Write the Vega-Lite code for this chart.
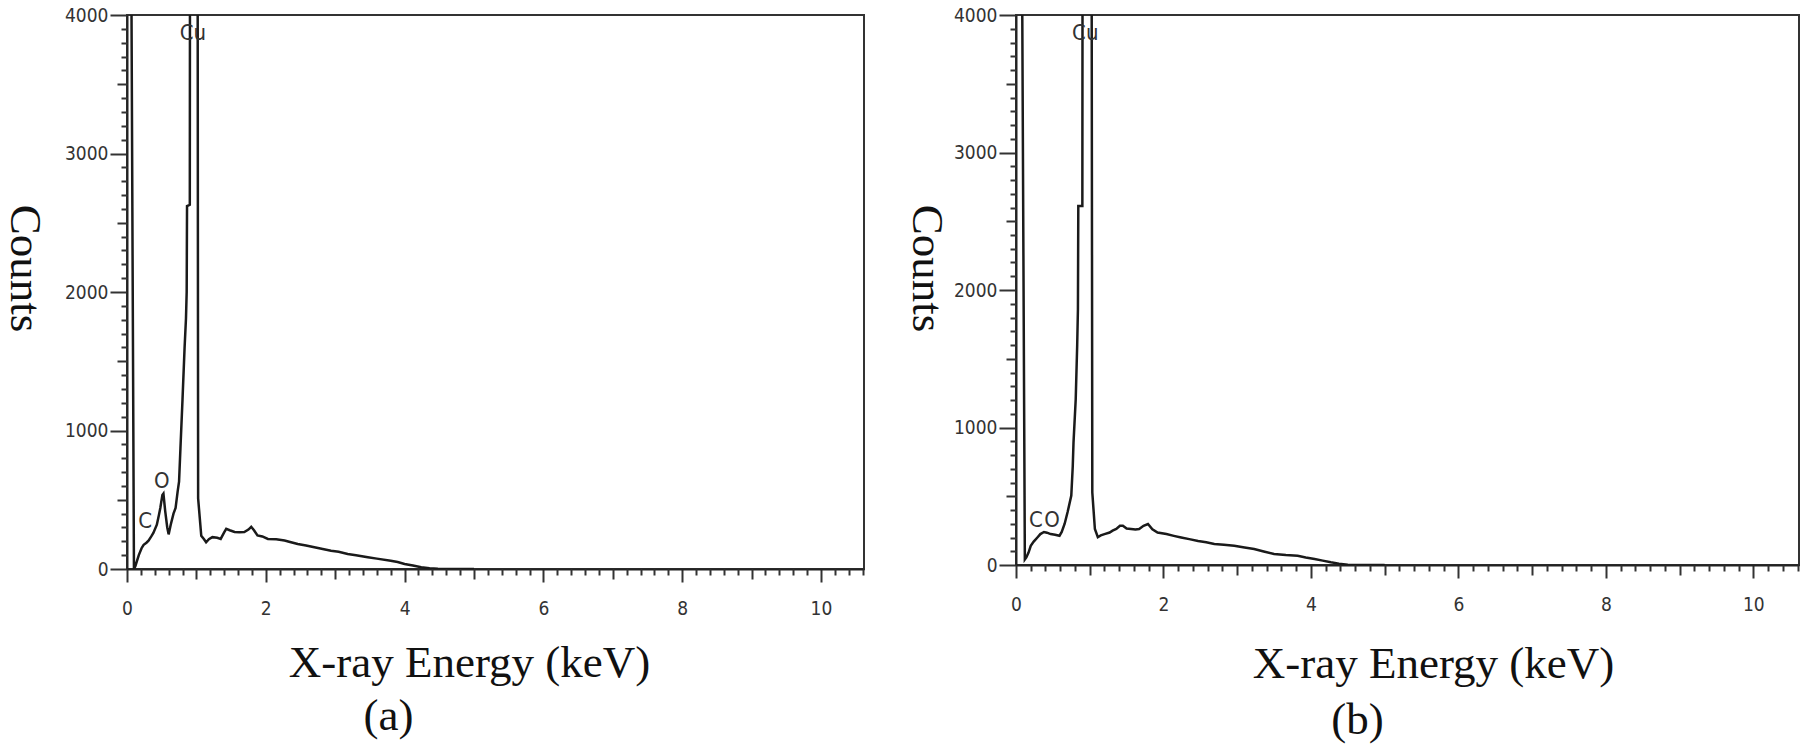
{
  "$schema": "https://vega.github.io/schema/vega-lite/v6.json",
  "background": "white",
  "padding": {"left": 0, "top": 5, "right": 0, "bottom": 0},
  "spacing": 152,
  "bounds": "flush",
  "datasets": {
    "a": [
      {"keV": 0.0, "counts": 4600}, {"keV": 0.06, "counts": 4600}, {"keV": 0.10, "counts": 0},
      {"keV": 0.12, "counts": 20}, {"keV": 0.17, "counts": 100}, {"keV": 0.21, "counts": 150},
      {"keV": 0.24, "counts": 175}, {"keV": 0.28, "counts": 190}, {"keV": 0.31, "counts": 205},
      {"keV": 0.35, "counts": 235}, {"keV": 0.38, "counts": 260}, {"keV": 0.43, "counts": 320},
      {"keV": 0.46, "counts": 390}, {"keV": 0.48, "counts": 440}, {"keV": 0.51, "counts": 535},
      {"keV": 0.525, "counts": 545}, {"keV": 0.55, "counts": 420}, {"keV": 0.58, "counts": 300},
      {"keV": 0.60, "counts": 250}, {"keV": 0.63, "counts": 320}, {"keV": 0.67, "counts": 400},
      {"keV": 0.70, "counts": 440}, {"keV": 0.73, "counts": 560}, {"keV": 0.75, "counts": 630},
      {"keV": 0.77, "counts": 870}, {"keV": 0.80, "counts": 1225}, {"keV": 0.83, "counts": 1600},
      {"keV": 0.85, "counts": 1810}, {"keV": 0.86, "counts": 2000}, {"keV": 0.865, "counts": 2620},
      {"keV": 0.905, "counts": 2630}, {"keV": 0.91, "counts": 6000}, {"keV": 1.015, "counts": 6000},
      {"keV": 1.025, "counts": 510}, {"keV": 1.07, "counts": 240}, {"keV": 1.11, "counts": 215},
      {"keV": 1.14, "counts": 193}, {"keV": 1.18, "counts": 215}, {"keV": 1.23, "counts": 230},
      {"keV": 1.30, "counts": 225}, {"keV": 1.35, "counts": 217}, {"keV": 1.40, "counts": 265},
      {"keV": 1.43, "counts": 290}, {"keV": 1.48, "counts": 280}, {"keV": 1.55, "counts": 267},
      {"keV": 1.62, "counts": 265}, {"keV": 1.69, "counts": 267}, {"keV": 1.75, "counts": 285},
      {"keV": 1.79, "counts": 305}, {"keV": 1.83, "counts": 280}, {"keV": 1.88, "counts": 243},
      {"keV": 1.95, "counts": 235}, {"keV": 2.03, "counts": 217}, {"keV": 2.15, "counts": 215},
      {"keV": 2.27, "counts": 206}, {"keV": 2.35, "counts": 195}, {"keV": 2.46, "counts": 181},
      {"keV": 2.58, "counts": 170}, {"keV": 2.70, "counts": 157}, {"keV": 2.82, "counts": 145},
      {"keV": 2.94, "counts": 132}, {"keV": 3.05, "counts": 125}, {"keV": 3.18, "counts": 108},
      {"keV": 3.30, "counts": 100}, {"keV": 3.47, "counts": 85}, {"keV": 3.60, "counts": 75},
      {"keV": 3.80, "counts": 60}, {"keV": 3.90, "counts": 50}, {"keV": 4.00, "counts": 36},
      {"keV": 4.12, "counts": 25}, {"keV": 4.24, "counts": 12}, {"keV": 4.36, "counts": 6},
      {"keV": 4.48, "counts": 2}, {"keV": 4.60, "counts": 0}, {"keV": 5.0, "counts": 0}
    ],
    "b": [
      {"keV": 0.0, "counts": 4600}, {"keV": 0.08, "counts": 4600}, {"keV": 0.12, "counts": 40},
      {"keV": 0.14, "counts": 55}, {"keV": 0.17, "counts": 90}, {"keV": 0.20, "counts": 140},
      {"keV": 0.24, "counts": 170}, {"keV": 0.29, "counts": 200}, {"keV": 0.33, "counts": 225},
      {"keV": 0.38, "counts": 240}, {"keV": 0.42, "counts": 235}, {"keV": 0.47, "counts": 225},
      {"keV": 0.53, "counts": 220}, {"keV": 0.59, "counts": 213}, {"keV": 0.62, "counts": 240},
      {"keV": 0.66, "counts": 300}, {"keV": 0.70, "counts": 385}, {"keV": 0.75, "counts": 505},
      {"keV": 0.77, "counts": 720}, {"keV": 0.78, "counts": 890}, {"keV": 0.81, "counts": 1205},
      {"keV": 0.83, "counts": 1600}, {"keV": 0.84, "counts": 1860}, {"keV": 0.845, "counts": 2611},
      {"keV": 0.90, "counts": 2611}, {"keV": 0.905, "counts": 6000}, {"keV": 1.022, "counts": 6000},
      {"keV": 1.035, "counts": 527}, {"keV": 1.07, "counts": 262}, {"keV": 1.11, "counts": 202},
      {"keV": 1.15, "counts": 215}, {"keV": 1.20, "counts": 225}, {"keV": 1.27, "counts": 236},
      {"keV": 1.31, "counts": 250}, {"keV": 1.36, "counts": 262}, {"keV": 1.41, "counts": 285},
      {"keV": 1.45, "counts": 286}, {"keV": 1.50, "counts": 265}, {"keV": 1.56, "counts": 262},
      {"keV": 1.62, "counts": 258}, {"keV": 1.67, "counts": 262}, {"keV": 1.73, "counts": 285},
      {"keV": 1.79, "counts": 298}, {"keV": 1.85, "counts": 260}, {"keV": 1.92, "counts": 236},
      {"keV": 2.04, "counts": 225}, {"keV": 2.14, "counts": 212}, {"keV": 2.24, "counts": 200},
      {"keV": 2.35, "counts": 188}, {"keV": 2.47, "counts": 175}, {"keV": 2.58, "counts": 165},
      {"keV": 2.69, "counts": 153}, {"keV": 2.82, "counts": 147}, {"keV": 2.96, "counts": 140},
      {"keV": 3.10, "counts": 128}, {"keV": 3.23, "counts": 116}, {"keV": 3.36, "counts": 98},
      {"keV": 3.50, "counts": 80}, {"keV": 3.66, "counts": 72}, {"keV": 3.82, "counts": 67},
      {"keV": 3.93, "counts": 55}, {"keV": 4.05, "counts": 44}, {"keV": 4.16, "counts": 32},
      {"keV": 4.27, "counts": 20}, {"keV": 4.38, "counts": 10}, {"keV": 4.50, "counts": 2},
      {"keV": 4.72, "counts": 0}, {"keV": 5.0, "counts": 0}
    ],
    "a_labels": [
      {"keV": 0.95, "counts": 3870, "label": "Cu"},
      {"keV": 0.26, "counts": 346, "label": "C"},
      {"keV": 0.50, "counts": 635, "label": "O"}
    ],
    "b_labels": [
      {"keV": 0.94, "counts": 3869, "label": "Cu"},
      {"keV": 0.27, "counts": 327, "label": "C"},
      {"keV": 0.49, "counts": 327, "label": "O"}
    ]
  },
  "hconcat": [
    {
      "width": 737,
      "height": 554,
      "title": {"text": "(a)", "orient": "bottom", "anchor": "middle", "baseline": "top", "offset": 9, "dx": -107},
      "resolve": {"axis": {"x": "independent", "y": "independent"}},
      "layer": [
        {
          "data": {"name": "a"},
          "mark": {"type": "line", "clip": true, "color": "#1a1a1a", "strokeWidth": 2.5},
          "encoding": {
            "x": {"field": "keV", "type": "quantitative", "scale": {"domain": [0, 10.62], "nice": false, "zero": false},
              "axis": {"orient": "bottom", "title": "X-ray Energy (keV)", "values": [0, 2, 4, 6, 8, 10], "format": "d", "tickSize": 13, "labelPadding": 17, "titleX": 342, "titleY": 107, "titleAlign": "center", "titleBaseline": "alphabetic"}},
            "y": {"field": "counts", "type": "quantitative", "scale": {"domain": [0, 4000], "nice": false},
              "axis": {"orient": "left", "title": "Counts", "values": [0, 1000, 2000, 3000, 4000], "format": "d", "tickSize": 17, "labelPadding": 2, "titleAngle": 90, "titleX": -126, "titleY": 253, "titleAlign": "center", "titleBaseline": "bottom"}}
          }
        },
        {
          "data": {"name": "a_labels"},
          "mark": {"type": "text", "font": "Liberation Sans Narrow, DejaVu Sans Condensed, Liberation Sans", "fontSize": 22, "color": "#333"},
          "encoding": {
            "x": {"field": "keV", "type": "quantitative", "scale": {"domain": [0, 10.62], "nice": false, "zero": false},
              "axis": {"orient": "bottom", "title": null, "values": [1, 3, 5, 7, 9], "labels": false, "tickSize": 10, "domain": false}},
            "y": {"field": "counts", "type": "quantitative", "scale": {"domain": [0, 4000], "nice": false},
              "axis": {"orient": "left", "title": null, "values": [500, 1500, 2500, 3500], "labels": false, "tickSize": 10, "domain": false}},
            "text": {"field": "label"}
          }
        },
        {
          "data": {"name": "a_labels"},
          "mark": {"type": "point", "opacity": 0},
          "encoding": {
            "x": {"field": "keV", "type": "quantitative", "scale": {"domain": [0, 10.62], "nice": false, "zero": false},
              "axis": {"orient": "bottom", "title": null, "values": [0.2,0.4,0.6,0.8,1.2,1.4,1.6,1.8,2.2,2.4,2.6,2.8,3.2,3.4,3.6,3.8,4.2,4.4,4.6,4.8,5.2,5.4,5.6,5.8,6.2,6.4,6.6,6.8,7.2,7.4,7.6,7.8,8.2,8.4,8.6,8.8,9.2,9.4,9.6,9.8,10.2,10.4,10.6], "labels": false, "tickSize": 6, "domain": false}},
            "y": {"field": "counts", "type": "quantitative", "scale": {"domain": [0, 4000], "nice": false},
              "axis": {"orient": "left", "title": null, "values": [100,200,300,400,600,700,800,900,1100,1200,1300,1400,1600,1700,1800,1900,2100,2200,2300,2400,2600,2700,2800,2900,3100,3200,3300,3400,3600,3700,3800,3900], "labels": false, "tickSize": 6, "domain": false}}
          }
        }
      ]
    },
    {
      "width": 783,
      "height": 550,
      "title": {"text": "(b)", "orient": "bottom", "anchor": "middle", "baseline": "top", "offset": 12, "dx": -50},
      "resolve": {"axis": {"x": "independent", "y": "independent"}},
      "layer": [
        {
          "data": {"name": "b"},
          "mark": {"type": "line", "clip": true, "color": "#1a1a1a", "strokeWidth": 2.5},
          "encoding": {
            "x": {"field": "keV", "type": "quantitative", "scale": {"domain": [0, 10.62], "nice": false, "zero": false},
              "axis": {"orient": "bottom", "title": "X-ray Energy (keV)", "values": [0, 2, 4, 6, 8, 10], "format": "d", "tickSize": 13, "labelPadding": 17, "titleX": 417, "titleY": 112, "titleAlign": "center", "titleBaseline": "alphabetic"}},
            "y": {"field": "counts", "type": "quantitative", "scale": {"domain": [0, 4000], "nice": false},
              "axis": {"orient": "left", "title": "Counts", "values": [0, 1000, 2000, 3000, 4000], "format": "d", "tickSize": 17, "labelPadding": 2, "titleAngle": 90, "titleX": -113, "titleY": 253, "titleAlign": "center", "titleBaseline": "bottom"}}
          }
        },
        {
          "data": {"name": "b_labels"},
          "mark": {"type": "text", "font": "Liberation Sans Narrow, DejaVu Sans Condensed, Liberation Sans", "fontSize": 22, "color": "#333"},
          "encoding": {
            "x": {"field": "keV", "type": "quantitative", "scale": {"domain": [0, 10.62], "nice": false, "zero": false},
              "axis": {"orient": "bottom", "title": null, "values": [1, 3, 5, 7, 9], "labels": false, "tickSize": 10, "domain": false}},
            "y": {"field": "counts", "type": "quantitative", "scale": {"domain": [0, 4000], "nice": false},
              "axis": {"orient": "left", "title": null, "values": [500, 1500, 2500, 3500], "labels": false, "tickSize": 10, "domain": false}},
            "text": {"field": "label"}
          }
        },
        {
          "data": {"name": "b_labels"},
          "mark": {"type": "point", "opacity": 0},
          "encoding": {
            "x": {"field": "keV", "type": "quantitative", "scale": {"domain": [0, 10.62], "nice": false, "zero": false},
              "axis": {"orient": "bottom", "title": null, "values": [0.2,0.4,0.6,0.8,1.2,1.4,1.6,1.8,2.2,2.4,2.6,2.8,3.2,3.4,3.6,3.8,4.2,4.4,4.6,4.8,5.2,5.4,5.6,5.8,6.2,6.4,6.6,6.8,7.2,7.4,7.6,7.8,8.2,8.4,8.6,8.8,9.2,9.4,9.6,9.8,10.2,10.4,10.6], "labels": false, "tickSize": 6, "domain": false}},
            "y": {"field": "counts", "type": "quantitative", "scale": {"domain": [0, 4000], "nice": false},
              "axis": {"orient": "left", "title": null, "values": [100,200,300,400,600,700,800,900,1100,1200,1300,1400,1600,1700,1800,1900,2100,2200,2300,2400,2600,2700,2800,2900,3100,3200,3300,3400,3600,3700,3800,3900], "labels": false, "tickSize": 6, "domain": false}}
          }
        }
      ]
    }
  ],
  "config": {
    "view": {"stroke": "#333", "strokeWidth": 2},
    "axis": {
      "grid": false,
      "domainColor": "#222",
      "domainWidth": 2,
      "tickColor": "#333",
      "tickWidth": 2,
      "labelFont": "Liberation Sans Narrow, DejaVu Sans Condensed, Liberation Sans",
      "labelFontSize": 19,
      "labelColor": "#333",
      "labelOverlap": false,
      "labelFlush": false,
      "titleFont": "Liberation Serif",
      "titleFontSize": 45,
      "titleFontWeight": "normal",
      "titleColor": "#111"
    },
    "title": {"font": "Liberation Serif", "fontSize": 45, "fontWeight": "normal", "color": "#111"}
  }
}
